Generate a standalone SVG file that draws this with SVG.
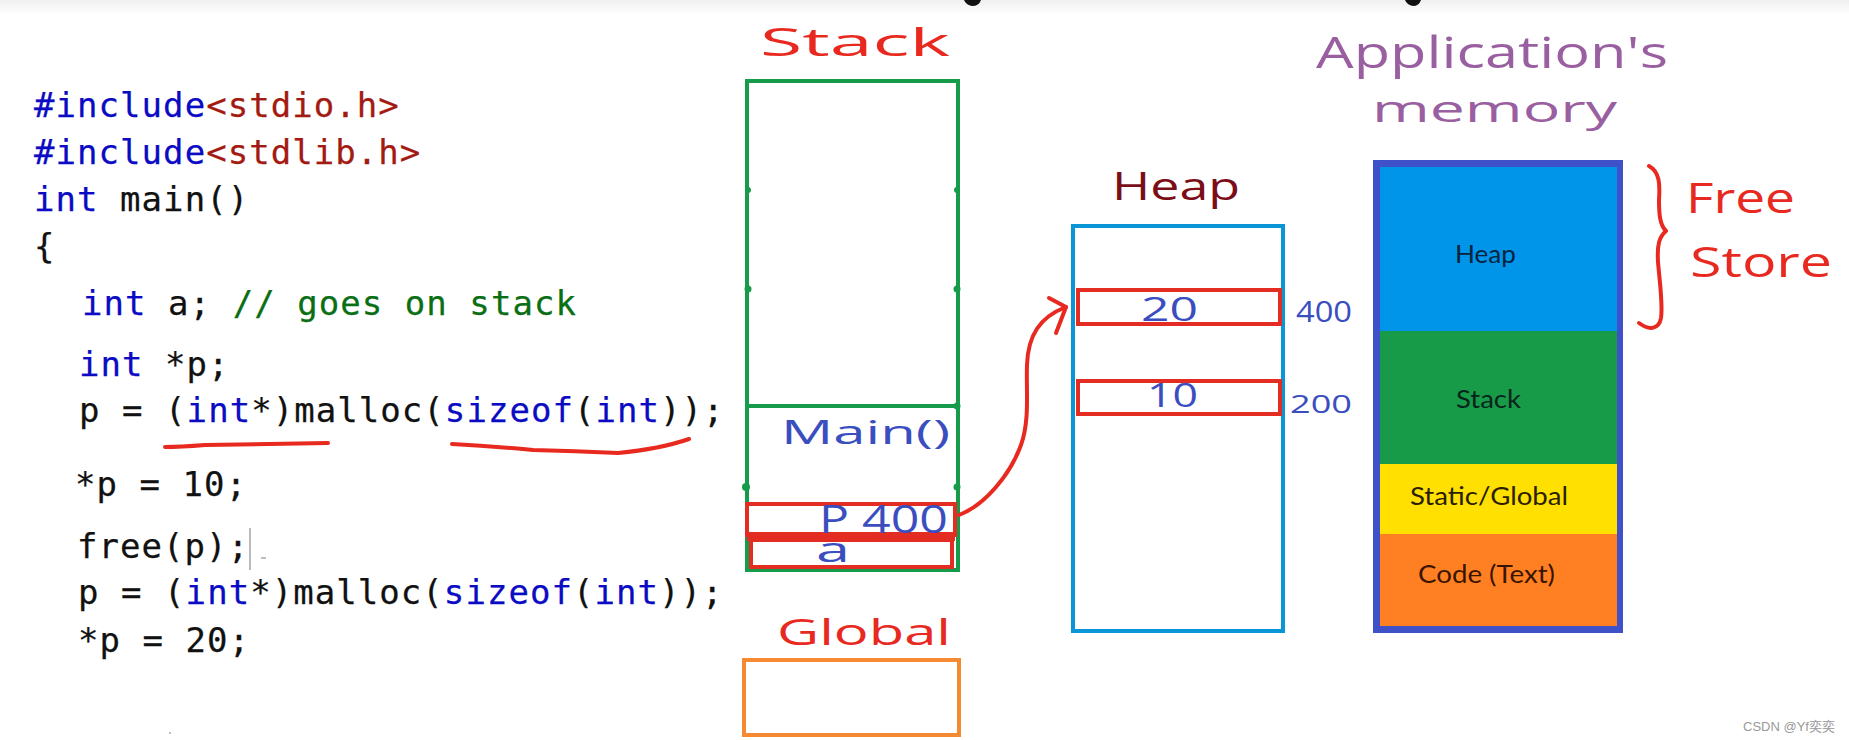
<svg xmlns="http://www.w3.org/2000/svg" width="1849" height="740" viewBox="0 0 1849 740">
<defs>
<linearGradient id="top" x1="0" y1="0" x2="0" y2="1"><stop offset="0" stop-color="#efefef"/><stop offset="1" stop-color="#ffffff"/></linearGradient>
<marker id="hand-head" markerUnits="userSpaceOnUse" orient="0" markerWidth="30" markerHeight="44" viewBox="0 0 30 44" refX="23" refY="12">
<path d="M6 3L23 12L13 38" fill="none" stroke="#e8291f" stroke-width="4" stroke-linecap="round" stroke-linejoin="round"/>
</marker>
</defs>
<style>
.code{font-family:"DejaVu Sans Mono","Liberation Mono",monospace;font-size:34px;letter-spacing:1.05px;fill:#111;stroke:#111;stroke-width:.25;white-space:pre}
.k{fill:#0b0bc4;stroke:#0b0bc4}.s{fill:#a31a12;stroke:#a31a12}.c{fill:#0a6e14;stroke:#0a6e14}
.hand{font-family:"Open Sans","Liberation Sans",sans-serif;stroke-linejoin:round}
.red{fill:#e8291f}
.blue{fill:#3a4ec0}
.seg{font-family:Lato,"Liberation Sans",sans-serif;font-size:25px}
.box{fill:none;stroke-width:4}
.r{stroke:#e32c22}
.ink{fill:none;stroke:#e8291f;stroke-width:4;stroke-linecap:round;stroke-linejoin:round}
.tick{fill:#169b4a}
</style>
<rect width="1849" height="740" fill="#fff"/>
<rect width="1849" height="14" fill="url(#top)"/>
<path d="M964 0H981Q979 6 972 6Q966 5 964 0ZM1405 0H1421Q1419 6 1413 6Q1407 5 1405 0Z" fill="#111"/>

<g id="code">
<text class="code" x="34" y="117"><tspan class="k">#include</tspan><tspan class="s">&lt;stdio.h&gt;</tspan></text>
<text class="code" x="34" y="164"><tspan class="k">#include</tspan><tspan class="s">&lt;stdlib.h&gt;</tspan></text>
<text class="code" x="34" y="211"><tspan class="k">int</tspan> main()</text>
<text class="code" x="34" y="258">{</text>
<text class="code" x="82" y="315"><tspan class="k">int</tspan> a; <tspan class="c">// goes on stack</tspan></text>
<text class="code" x="79" y="376"><tspan class="k">int</tspan> *p;</text>
<text class="code" x="79" y="422">p = (<tspan class="k">int</tspan>*)malloc(<tspan class="k">sizeof</tspan>(<tspan class="k">int</tspan>));</text>
<text class="code" x="75" y="496">*p = 10;</text>
<text class="code" x="77" y="558">free(p);</text>
<text class="code" x="78" y="604">p = (<tspan class="k">int</tspan>*)malloc(<tspan class="k">sizeof</tspan>(<tspan class="k">int</tspan>));</text>
<text class="code" x="78" y="652">*p = 20;</text>
<path d="M250 528V570" stroke="#777" stroke-width="1" fill="none"/>
<path d="M261 558H266M170 732V734" stroke="#aaa" stroke-width="1.5" fill="none"/>
<path class="ink" d="M165 447Q180 447 205 445Q270 444 328 443"/>
<path class="ink" d="M452 444Q490 446 533 450Q575 451 618 453Q660 449 689 439"/>
</g>

<g id="stack">
<text class="hand red" x="760" y="56" font-size="38" textLength="190" lengthAdjust="spacingAndGlyphs">Stack</text>
<rect class="box" x="747" y="81" width="211" height="489" stroke="#169b4a"/>
<path d="M747 406H958" stroke="#169b4a" stroke-width="4"/>
<circle class="tick" cx="748" cy="190" r="3"/><circle class="tick" cx="957" cy="190" r="3"/>
<circle class="tick" cx="748" cy="289" r="3.5"/><circle class="tick" cx="957" cy="289" r="3.5"/>
<circle class="tick" cx="957" cy="406" r="3.5"/>
<circle class="tick" cx="746" cy="487" r="4"/><circle class="tick" cx="957" cy="487" r="3.5"/>
<text class="hand blue" x="781" y="444" font-size="32" textLength="169" lengthAdjust="spacingAndGlyphs">Main()</text>
</g>
<g id="stack-p">
<rect class="box r" x="747" y="504" width="208" height="31"/>
<path d="M747 536.500H955" stroke="#e32c22" stroke-width="9"/>
<text class="hand blue" x="819" y="533" font-size="38" textLength="129" lengthAdjust="spacingAndGlyphs">P 400</text>
</g>
<g id="stack-a">
<rect class="box r" x="751" y="540" width="201" height="27"/>
<text class="hand blue" x="816" y="562" font-size="34" textLength="34" lengthAdjust="spacingAndGlyphs">a</text>
</g>

<g id="global">
<text class="hand red" x="777" y="645" font-size="36" textLength="174" lengthAdjust="spacingAndGlyphs">Global</text>
<rect class="box" x="744" y="660" width="215" height="75" stroke="#f58a32"/>
</g>

<g id="heap">
<text class="hand" x="1112" y="200" font-size="38" fill="#7b0d18" textLength="128" lengthAdjust="spacingAndGlyphs">Heap</text>
<rect class="box" x="1073" y="226" width="210" height="405" stroke="#0a96d6"/>
</g>
<g id="heap-20">
<rect class="box r" x="1078" y="290" width="202" height="34"/>
<text class="hand blue" x="1141" y="321" font-size="32" textLength="57" lengthAdjust="spacingAndGlyphs">20</text>
<text class="hand blue" x="1296" y="322" font-size="29" textLength="56" lengthAdjust="spacingAndGlyphs">400</text>
</g>
<g id="heap-10">
<rect class="box r" x="1078" y="381" width="202" height="33"/>
<text class="hand blue" x="1147" y="407" font-size="32" textLength="51" lengthAdjust="spacingAndGlyphs">10</text>
<text class="hand blue" x="1290" y="413" font-size="25" textLength="62" lengthAdjust="spacingAndGlyphs">200</text>
</g>

<g id="connectors">
<path class="ink" d="M959 515C985 505 1010 475 1021 445C1030 420 1026 390 1027 365C1028 335 1040 317 1066 307" marker-end="url(#hand-head)" stroke-width="3.500"/>
</g>

<g id="memory">
<text class="hand" x="1316" y="68" font-size="44" fill="#9a5fa0" textLength="352" lengthAdjust="spacingAndGlyphs">Application's</text>
<text class="hand" x="1372" y="122" font-size="36" fill="#9a5fa0" textLength="245" lengthAdjust="spacingAndGlyphs">memory</text>
<rect x="1373" y="160" width="250" height="473" fill="#3f51c8"/>
</g>
<g id="seg-heap">
<rect x="1380" y="167" width="237" height="164" fill="#0095e8"/>
<text class="seg" x="1455" y="263" fill="#06233f" textLength="61" lengthAdjust="spacingAndGlyphs">Heap</text>
</g>
<g id="seg-stack">
<rect x="1380" y="331" width="237" height="133" fill="#189b49"/>
<text class="seg" x="1456" y="408" fill="#06251a" textLength="65" lengthAdjust="spacingAndGlyphs">Stack</text>
</g>
<g id="seg-static">
<rect x="1380" y="464" width="237" height="70" fill="#ffe000"/>
<text class="seg" x="1410" y="505" fill="#2a2000" textLength="158" lengthAdjust="spacingAndGlyphs">Static/Global</text>
</g>
<g id="seg-code">
<rect x="1380" y="534" width="237" height="92" fill="#ff8022"/>
<text class="seg" x="1418" y="583" fill="#3a1400" textLength="137" lengthAdjust="spacingAndGlyphs">Code (Text)</text>
</g>

<g id="free-store">
<path class="ink" d="M1649 166C1660 172 1660 185 1659 200C1659 215 1660 225 1666 231C1659 237 1657 245 1658 262C1660 285 1663 305 1661 318C1659 329 1650 331 1639 323"/>
<text class="hand red" x="1686" y="213" font-size="42" textLength="109" lengthAdjust="spacingAndGlyphs">Free</text>
<text class="hand red" x="1690" y="277" font-size="42" textLength="142" lengthAdjust="spacingAndGlyphs">Store</text>
</g>

<text x="1743" y="731" font-family="'Liberation Sans','Noto Sans CJK SC',sans-serif" font-size="13" fill="#999">CSDN @Yf奕奕</text>
</svg>
